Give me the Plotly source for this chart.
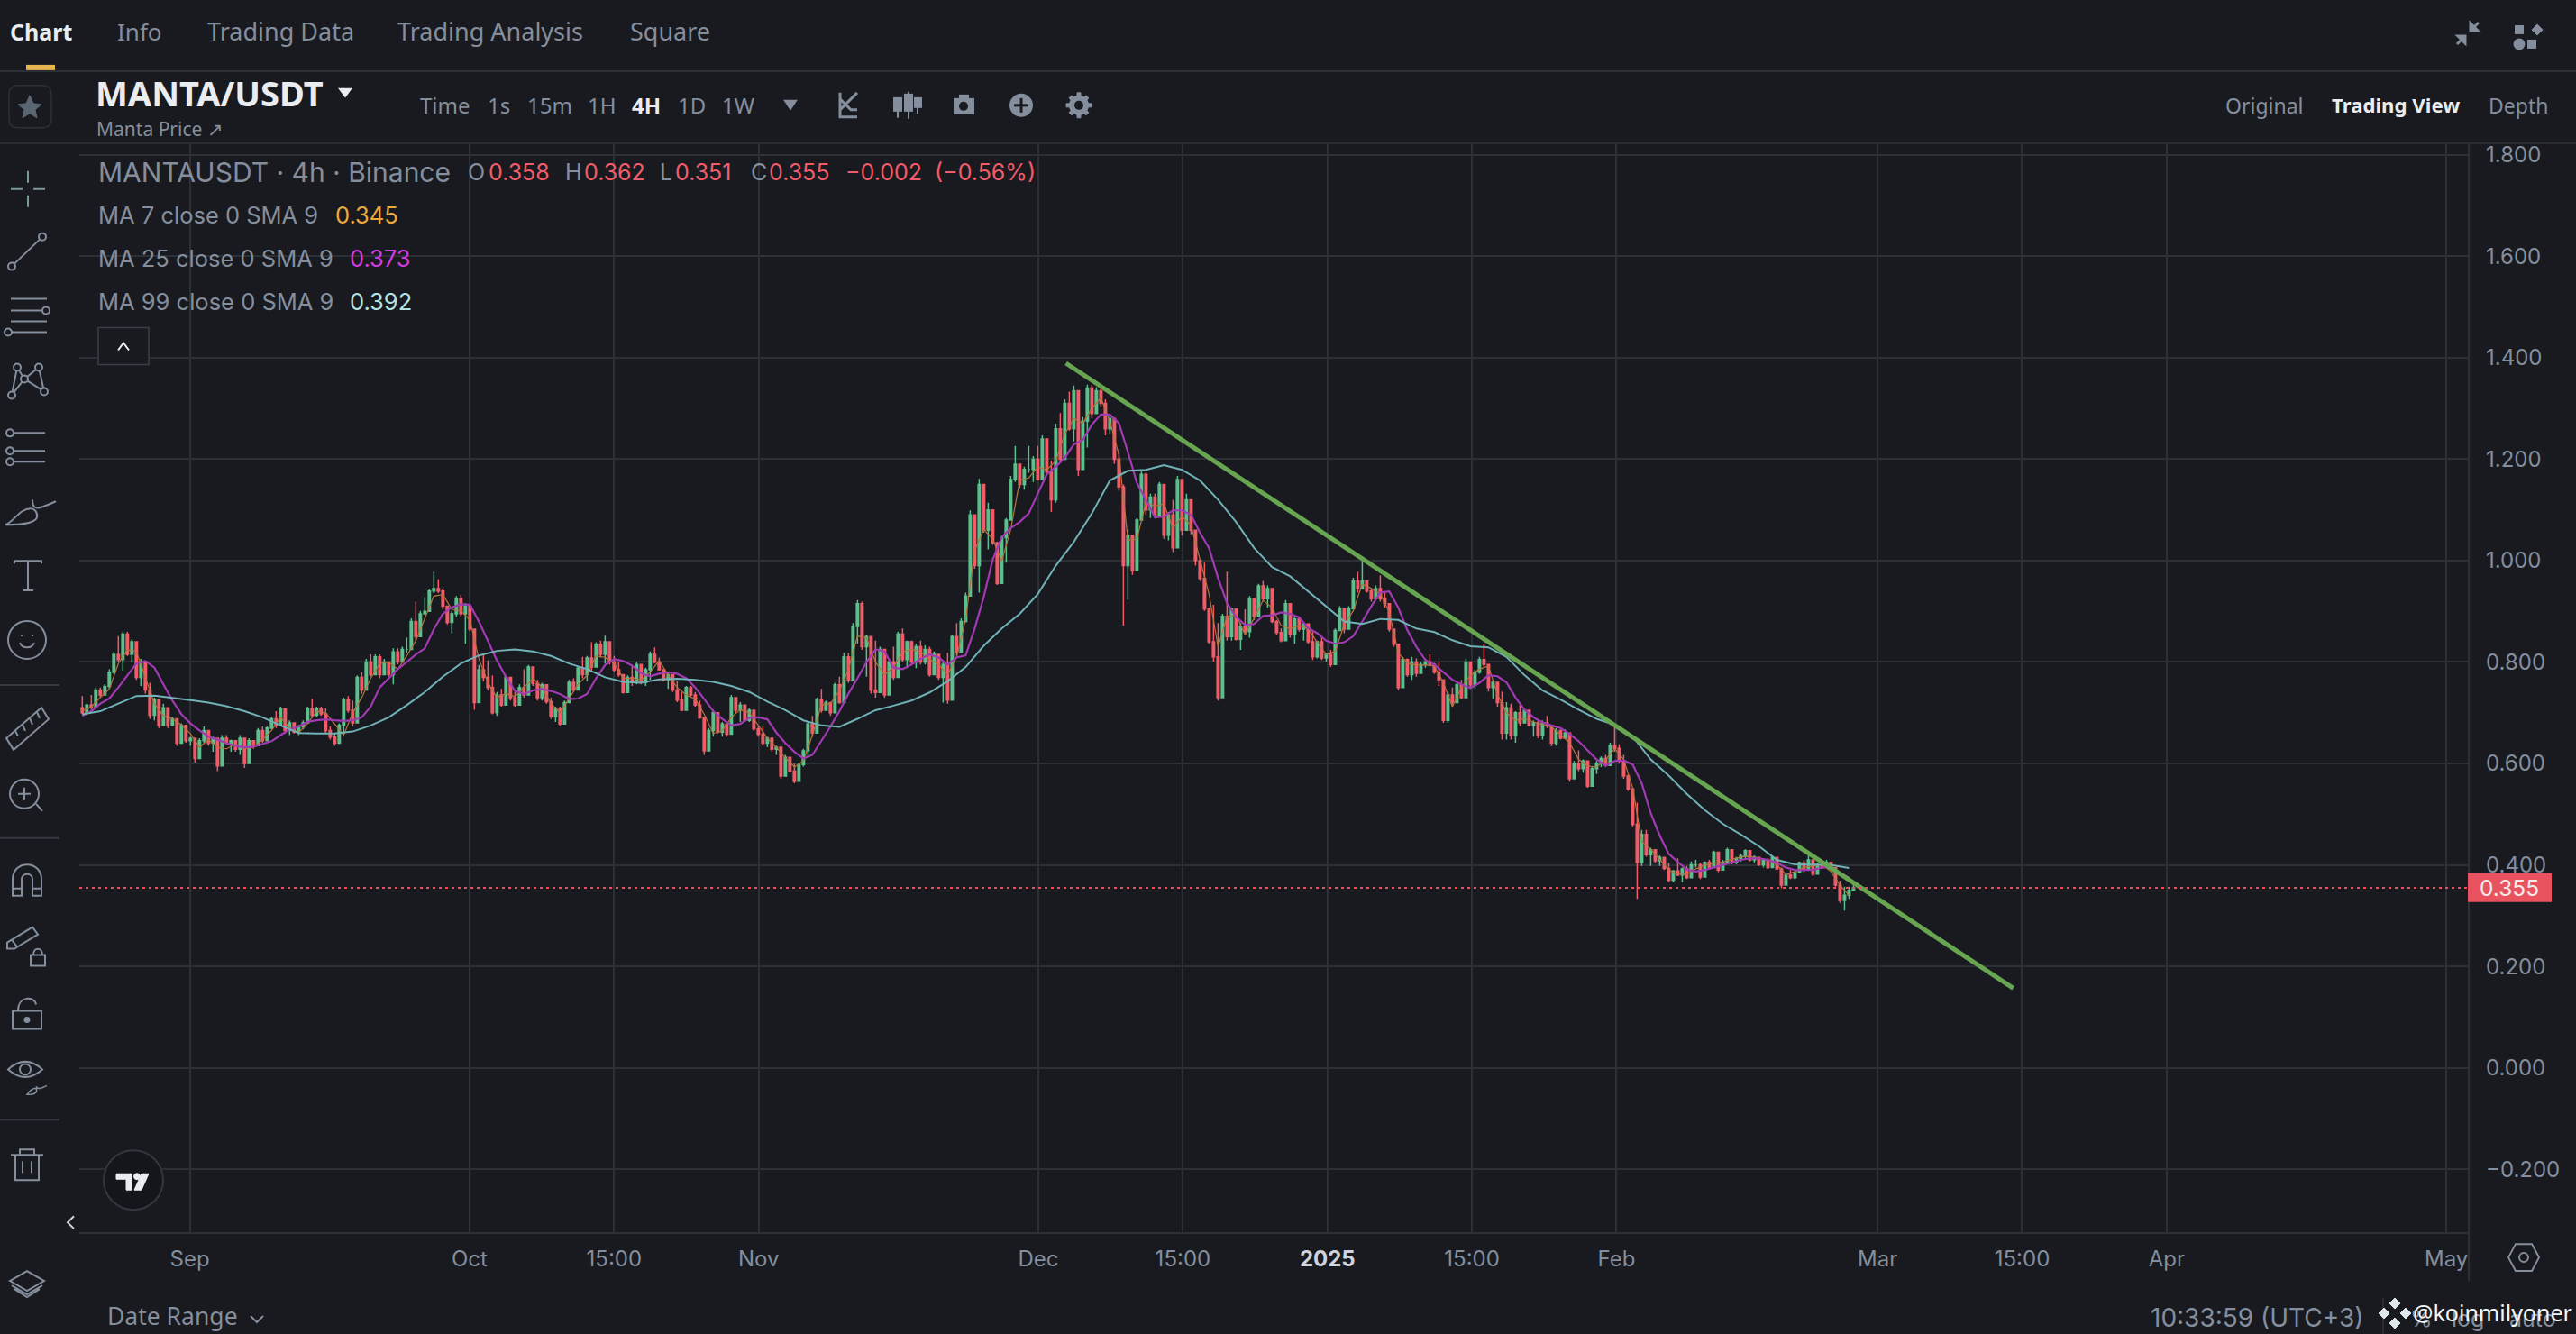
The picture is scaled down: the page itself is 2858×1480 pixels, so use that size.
import re
import pandas as pd
import plotly.graph_objects as go

W, H = 2858, 1480

start_time = "2024-08-20 11:16"

high = [
    .733,.718,.735,.75,.75,.756,.786,.821,.851,.86,
    .86,.845,.824,.806,.771,.759,.73,.712,.718,.70,
    .691,.682,.679,.664,.653,.647,.65,.673,.661,.653,
    .635,.656,.656,.647,.644,.656,.641,.65,.644,.67,
    .673,.673,.691,.703,.712,.682,.685,.676,.676,.685,
    .712,.727,.712,.712,.709,.673,.659,.679,.73,.733,
    .724,.774,.78,.806,.815,.815,.815,.806,.797,.827,
    .827,.83,.848,.886,.919,.901,.928,.945,.978,.963,
    .945,.907,.901,.93,.933,.916,.889,.851,.794,.815,
    .803,.774,.741,.747,.774,.759,.741,.756,.786,.794,
    .783,.765,.759,.741,.73,.712,.712,.724,.765,.768,
    .792,.81,.812,.839,.839,.842,.852,.833,.812,.80,
    .771,.774,.792,.80,.78,.789,.821,.829,.809,.786,
    .78,.774,.762,.741,.753,.753,.741,.724,.688,.67,
    .706,.688,.682,.679,.735,.73,.721,.712,.709,.694,
    .673,.673,.653,.647,.635,.623,.617,.611,.60,.602,
    .629,.682,.694,.73,.747,.724,.718,.759,.771,.818,
    .818,.877,.922,.919,.854,.83,
    .842,.83,.812,.803,.83,.86,.866,.842,.842,.836,
    .842,.833,.83,.821,.809,.80,.818,
    .854,.877,.886,.937,1.099,1.09,1.161,1.114,1.114,1.096,
    1.037,1.049,1.084,1.167,1.226,1.17,1.185,1.226,1.206,1.226,
    1.247,1.217,1.197,1.27,1.291,1.318,1.333,1.345,1.283,1.283,
    1.347,1.347,1.342,1.344,1.318,1.288,1.253,1.212,1.15,1.061,
    1.025,1.084,1.176,1.173,1.132,1.132,1.155,1.143,1.096,1.12,
    1.167,1.126,1.132,1.096,1.061,1.002,.996,.907,
    .913,.877,.895,.978,.907,.886,.877,.904,.93,.919,
    .954,.96,.951,.942,.883,.866,.922,.877,.889,.889,
    .877,.866,.86,.842,.848,.818,.824,.866,.91,.878,
    .91,.966,.978,.999,.96,.945,.951,.971,.937,.913,
    .866,.824,.81,.807,.81,.807,.801,.807,.815,.798,
    .801,.765,.742,.75,.759,.765,.807,.783,.786,.81,
    .836,.795,.765,.756,.742,.721,.718,
    .703,.715,.709,.70,.685,.685,.685,.694,.67,.67,
    .667,.667,.647,.605,.626,.608,.593,.593,.605,.614,
    .617,.641,.673,.638,.617,.579,.546,.523,.469,.469,
    .434,.419,.419,.413,.404,.39,.413,.395,.398,.407,
    .41,.404,.407,.41,.428,.407,.41,.434,.416,.416,
    .422,.431,.419,.419,.413,.413,.413,.419,.41,.395,
    .384,.39,.387,.407,.41,.419,.401,.404,.41,.41,
    .404,.381,.369,.357,.357,.363,
]
low = [
    .697,.697,.706,.718,.73,.738,.747,.777,.80,.783,
    .812,.80,.765,.753,.738,.688,.685,.67,.688,.67,
    .673,.635,.661,.641,.635,.602,.611,.641,.635,.623,
    .585,.611,.638,.623,.623,.617,.591,.626,.629,.635,
    .641,.653,.667,.67,.679,.659,.656,.659,.656,.667,
    .679,.691,.691,.694,.659,.647,.635,.647,.659,.70,
    .673,.724,.738,.771,.771,.783,.768,.777,.771,.756,
    .795,.80,.818,.824,.842,.86,.895,.901,.936,.936,
    .904,.874,.857,.889,.889,.836,.86,.706,.724,.762,
    .744,.697,.694,.712,.735,.724,.712,.718,.73,.753,
    .753,.724,.724,.718,.688,.682,.673,.70,.724,.741,
    .753,.768,.762,.783,.806,.809,.797,.795,.78,.771,
    .738,.756,.753,.756,.756,.753,.765,.797,.783,.762,
    .747,.741,.721,.703,.724,.732,.712,.688,.617,.635,
    .653,.659,.653,.653,.682,.70,.682,.682,.682,.665,
    .653,.635,.632,.623,.617,.57,.588,.582,.561,.588,
    .594,.611,.653,.694,.70,.706,.694,.712,.718,.747,
    .759,.789,.836,.824,.771,.738,
    .73,.741,.73,.735,.765,.783,.80,.788,.795,.788,
    .795,.795,.771,.774,.765,.72,.718,
    .807,.813,.83,.878,.949,.984,.937,1.055,1.022,1.031,
    .952,.972,.996,1.09,1.155,1.143,1.14,1.173,1.155,1.158,
    1.19,1.17,1.096,1.114,1.197,1.232,1.256,1.235,1.167,1.179,
    1.223,1.28,1.303,1.303,1.247,1.25,1.191,1.138,.872,.922,
    .972,1.02,1.084,1.09,1.084,1.084,1.096,1.043,1.04,1.017,
    1.049,1.049,1.073,1.052,.99,.96,.901,.836,
    .801,.724,.824,.842,.842,.842,.824,.854,.848,.883,
    .901,.919,.907,.877,.854,.839,.857,.848,.836,.86,
    .842,.836,.804,.807,.804,.801,.79,.812,.863,.857,
    .871,.907,.937,.954,.937,.919,.922,.919,.907,.86,
    .83,.744,.765,.771,.765,.771,.777,.789,.792,.777,
    .753,.68,.68,.712,.724,.727,.771,.747,.747,.777,
    .789,.742,.727,.712,.647,.647,.647,
    .641,.673,.682,.673,.653,.65,.647,.67,.634,.635,
    .647,.65,.564,.576,.585,.582,.552,.561,.579,.593,
    .593,.602,.623,.60,.57,.546,.475,.333,.398,.416,
    .398,.404,.398,.39,.366,.366,.378,.366,.372,.381,
    .395,.372,.392,.392,.398,.386,.395,.404,.401,.401,
    .407,.41,.407,.404,.398,.395,.392,.398,.39,.354,
    .369,.372,.372,.386,.386,.395,.378,.386,.392,.398,
    .392,.357,.325,.31,.333,.354,
]
close = [
    .70,.715,.71,.745,.735,.752,.78,.815,.805,.855,
    .815,.84,.77,.80,.745,.695,.725,.675,.71,.675,
    .688,.64,.675,.645,.65,.61,.645,.665,.64,.65,
    .595,.65,.64,.645,.628,.65,.60,.645,.635,.665,
    .645,.67,.688,.675,.708,.665,.68,.662,.672,.68,
    .708,.695,.708,.698,.665,.652,.64,.675,.725,.705,
    .68,.77,.745,.80,.775,.81,.775,.80,.775,.82,
    .80,.825,.825,.88,.85,.895,.90,.94,.945,.94,
    .91,.878,.895,.925,.895,.91,.865,.72,.785,.77,
    .75,.70,.735,.715,.77,.73,.715,.75,.735,.79,
    .758,.73,.755,.722,.692,.708,.678,.72,.76,.745,
    .788,.775,.808,.79,.835,.815,.84,.80,.785,.775,
    .74,.77,.76,.795,.76,.785,.815,.80,.785,.765,
    .775,.745,.725,.705,.75,.735,.715,.69,.625,.665,
    .70,.662,.678,.658,.73,.705,.715,.685,.705,.668,
    .658,.64,.65,.628,.632,.575,.612,.585,.565,.598,
    .625,.678,.66,.725,.705,.72,.70,.755,.72,.81,
    .765,.87,.915,.83,.85,.745,
    .74,.825,.735,.80,.77,.855,.805,.84,.80,.83,
    .80,.825,.775,.815,.77,.795,.725,
    .85,.82,.88,.93,1.09,.99,1.15,1.06,1.10,1.035,
    .955,1.045,1.08,1.16,1.19,1.15,1.18,1.18,1.20,1.16,
    1.24,1.175,1.12,1.26,1.20,1.31,1.26,1.335,1.18,1.275,
    1.34,1.29,1.335,1.31,1.26,1.28,1.20,1.145,.99,1.05,
    .98,1.08,1.17,1.10,1.125,1.09,1.15,1.05,1.09,1.025,
    1.16,1.06,1.12,1.06,1.0,.965,.905,.84,
    .81,.73,.89,.85,.905,.845,.87,.86,.925,.89,
    .95,.925,.945,.88,.858,.842,.915,.855,.885,.865,
    .875,.84,.81,.84,.808,.815,.795,.862,.905,.865,
    .905,.96,.945,.96,.94,.925,.945,.925,.915,.865,
    .835,.75,.805,.775,.80,.778,.795,.80,.795,.78,
    .765,.685,.735,.72,.755,.73,.80,.755,.78,.805,
    .795,.75,.76,.72,.66,.71,.655,
    .70,.68,.705,.675,.68,.655,.68,.675,.64,.665,
    .65,.66,.57,.60,.59,.605,.555,.59,.60,.61,
    .596,.635,.63,.605,.575,.55,.48,.405,.46,.42,
    .43,.408,.415,.393,.37,.388,.38,.392,.375,.40,
    .40,.376,.405,.395,.425,.39,.405,.43,.405,.412,
    .418,.428,.41,.415,.40,.41,.395,.415,.392,.36,
    .38,.375,.385,.404,.39,.41,.382,.40,.395,.405,
    .395,.36,.33,.34,.35,.355,
]
first_open = .71

# moving averages, read every second candle (MA 7, MA 25) and every fourth (MA 99)
ma7 = [
    .703,.712,.73,.747,.797,.824,.821,.768,.718,.694,.688,.676,.659,.632,.647,.632,.629,.638,.629,.632,
    .647,.665,.691,.67,.661,.679,.703,.70,.679,.656,.70,.73,.768,.797,.80,.786,.812,.842,.886,.93,
    .933,.904,.901,.883,.806,.759,.73,.738,.732,.75,.768,.75,.718,.70,.727,.756,.774,.812,.809,.797,
    .768,.768,.765,.78,.803,.774,.75,.735,.727,.697,.659,.665,.691,.706,.70,.676,.65,.632,.611,.593,
    .605,.656,.715,.718,.744,.786,.851,.848,.80,.775,.79,.82,.825,.82,.805,.795,.775,.81,.884,1.02,
    1.061,1.043,.999,1.061,1.158,1.163,1.185,1.179,1.197,1.25,1.28,1.271,1.30,1.321,1.274,1.209,1.04,1.043,1.114,1.108,
    1.111,1.064,1.087,1.07,1.002,.934,.83,.89,.892,.854,.886,.922,.907,.872,.866,.872,.866,.839,.815,.821,
    .874,.901,.954,.945,.934,.898,.818,.798,.794,.794,.792,.759,.712,.75,.774,.786,.792,.736,.70,.685,
    .688,.682,.676,.672,.656,.641,.608,.595,.593,.608,.629,.608,.552,.446,.431,.411,.39,.382,.382,.392,
    .40,.403,.406,.411,.416,.417,.414,.409,.401,.381,.387,.395,.398,.401,.387,.36,.34,
]
ma25 = [
    .694,.703,.718,.728,.75,.774,.797,.802,.789,.756,.724,.697,.679,.665,.653,.647,.64,.635,.632,.633,
    .638,.644,.656,.667,.673,.682,.685,.687,.685,.684,.685,.691,.712,.75,.768,.786,.80,.815,.827,.865,
    .895,.908,.914,.913,.88,.842,.803,.771,.743,.737,.744,.747,.743,.737,.727,.728,.737,.768,.794,.806,
    .802,.793,.778,.772,.777,.78,.777,.768,.75,.727,.703,.688,.675,.678,.69,.691,.687,.661,.64,.623,
    .61,.617,.644,.673,.703,.738,.768,.80,.825,.821,.789,.786,.795,.806,.815,.809,.795,.809,.813,.866,
    .928,1.002,1.046,1.064,1.076,1.093,1.132,1.17,1.185,1.203,1.229,1.238,1.268,1.288,1.288,1.271,1.214,1.153,1.12,1.085,
    1.087,1.099,1.099,1.09,1.055,1.025,.966,.916,.889,.873,.875,.891,.892,.898,.895,.888,.867,.857,.842,.836,
    .839,.851,.88,.91,.937,.939,.907,.863,.83,.804,.795,.78,.765,.756,.749,.759,.774,.772,.76,.73,
    .706,.691,.681,.675,.67,.658,.644,.626,.608,.596,.605,.606,.598,.561,.502,.458,.422,.406,.391,.387,
    .39,.395,.40,.405,.41,.413,.413,.41,.404,.395,.39,.39,.39,.395,.395,.384,.375,
]
ma99 = [
    .697,.703,.718,.733,.734,.73,.725,.72,.713,.703,.691,.675,.66,.659,.659,.663,.675,.691,.715,.741,
    .771,.797,.813,.822,.825,.821,.812,.797,.786,.77,.761,.759,.766,.767,.765,.761,.753,.741,.722,.705,
    .685,.675,.672,.688,.705,.714,.724,.74,.762,.79,.832,.866,.895,.934,.99,1.037,1.093,1.158,1.177,1.179,
    1.188,1.179,1.158,1.12,1.076,1.025,.987,.969,.939,.91,.88,.875,.885,.883,.866,.859,.843,.831,.829,.81,
    .774,.744,.726,.706,.688,.676,.653,.608,.576,.54,.508,.481,.46,.437,.41,.401,.40,.40,.394,
]

trend_times = ["2024-12-03 23:00", "2025-03-15 13:12"]
trend_values = [1.389, .157]
last_price = .355

tick_dates = ["2024-09-01", "2024-10-01", "2024-10-16 12:00", "2024-11-01", "2024-12-01", "2024-12-16 12:00",
              "2025-01-01", "2025-01-16 12:00", "2025-02-01", "2025-03-01", "2025-03-16 12:00", "2025-04-01", "2025-05-01"]
tick_labels = ["Sep", "Oct", "15:00", "Nov", "Dec", "15:00",
               "<b><span style='color:#d0d4da'>2025</span></b>", "15:00", "Feb", "Mar", "15:00", "Apr", "May"]
price_ticks = [1.8, 1.6, 1.4, 1.2, 1.0, .8, .6, .4, .2, 0, -.2]
price_labels = ["1.800", "1.600", "1.400", "1.200", "1.000", "0.800", "0.600", "0.400", "0.200", "0.000", "−0.200"]

BG = "#181a20"
GRID = "#2b2f36"
GRAY = "#848e9c"
GREEN = "#5cc08c"
RED = "#f25c69"
FONT = "Noto Sans"
CHART_FONT = "Inter"

candle_times = pd.date_range(start_time, periods=len(close), freq="696min")
opens = [first_open] + close[:-1]

fig = go.Figure()
fig.add_trace(go.Candlestick(
    x=candle_times, open=opens, high=high, low=low, close=close, whiskerwidth=0,
    increasing=dict(line=dict(color=GREEN, width=1.5), fillcolor=GREEN),
    decreasing=dict(line=dict(color=RED, width=1.5), fillcolor=RED),
    hoverinfo="skip", showlegend=False))
fig.add_trace(go.Scatter(x=pd.date_range(start_time, periods=len(ma7), freq="1392min"), y=ma7, mode="lines",
                         line=dict(color="#b3763c", width=1.2), hoverinfo="skip", showlegend=False))
fig.add_trace(go.Scatter(x=pd.date_range(start_time, periods=len(ma25), freq="1392min"), y=ma25, mode="lines",
                         line=dict(color="#a23ab3", width=2.2), hoverinfo="skip", showlegend=False))
fig.add_trace(go.Scatter(x=pd.date_range(start_time, periods=len(ma99), freq="2784min"), y=ma99, mode="lines",
                         line=dict(color="#70b2b6", width=2), hoverinfo="skip", showlegend=False))
fig.add_trace(go.Scatter(x=trend_times, y=trend_values, mode="lines",
                         line=dict(color="#68a550", width=5), hoverinfo="skip", showlegend=False))

shapes = []
notes = []


def fx(px):
    return px / W


def fy(py):
    return 1 - py / H


def text(x, y, s, size=24, color=GRAY, anchor="left", font=FONT):
    notes.append(dict(x=fx(x), y=fy(y), xref="paper", yref="paper", text=s, showarrow=False,
                      xanchor=anchor, yanchor="middle", borderpad=0,
                      font=dict(family=font, size=size, color=color)))


def line(x0, y0, x1, y1, color=GRID, width=2):
    shapes.append(dict(type="line", xref="paper", yref="paper", x0=fx(x0), y0=fy(y0), x1=fx(x1), y1=fy(y1),
                       line=dict(color=color, width=width)))


def rect(x0, y0, x1, y1, fill=None, color=None, width=2):
    shapes.append(dict(type="rect", xref="paper", yref="paper", x0=fx(x0), y0=fy(y0), x1=fx(x1), y1=fy(y1),
                       fillcolor=fill or "rgba(0,0,0,0)", line=dict(color=color or "rgba(0,0,0,0)", width=width)))


def ring(cx, cy, r, color=GRAY, fill=None, width=2):
    shapes.append(dict(type="circle", xref="paper", yref="paper", x0=fx(cx - r), y0=fy(cy - r), x1=fx(cx + r),
                       y1=fy(cy + r), fillcolor=fill or "rgba(0,0,0,0)", line=dict(color=color, width=width)))


def icon(cx, cy, path, color=GRAY, fill=None, width=2):
    # path is written in pixels around the icon centre
    nums = iter(re.findall(r"[A-Z]|-?\d+\.?\d*", path))
    out = []
    for tok in nums:
        if tok.isalpha():
            out.append(tok)
        else:
            out.append(f"{fx(cx + float(tok)):.5f},{fy(cy + float(next(nums))):.5f}")
    shapes.append(dict(type="path", xref="paper", yref="paper", path=" ".join(out),
                       fillcolor=fill or "rgba(0,0,0,0)", line=dict(color=color, width=width)))


# top tabs and header
line(0, 77, W, 77)
line(0, 157, W, 157)
rect(29, 70, 61, 76, fill="#e8b450")
text(10, 33, "<b>Chart</b>", 25, "#eaecef")
text(129, 33, "Info", 26)
text(229, 33, "Trading Data", 27)
text(440, 33, "Trading Analysis", 27)
text(698, 33, "Square", 27)
icon(2738, 35, "M3 -3 L12 -12 M3 -11 L3 -3 L11 -3 Z M-3 3 L-12 12 M-3 11 L-3 3 L-11 3 Z", GRAY, GRAY, 3)
rect(2790, 26, 2800, 36, fill=GRAY)
icon(2802, 37, "M13 -12 L19 -6 L13 0 L7 -6 Z", GRAY, GRAY, 1)
ring(2795, 47, 5.5, GRAY, GRAY)
rect(2804, 42, 2814, 52, fill=GRAY)

# symbol row
text(105, 101, "<b>MANTA/USDT</b>", 38, "#eaecef")
icon(383, 100, "M-6 -3 L6 -3 L0 5 Z", "#eaecef", "#eaecef")
text(106, 141, "Manta Price ↗", 21)
shapes.append(dict(type="path", xref="paper", yref="paper",
                   path=f"M {fx(20)},{fy(93)} L {fx(47)},{fy(93)} Q {fx(57)},{fy(93)} {fx(57)},{fy(103)} L {fx(57)},{fy(130)} "
                        f"Q {fx(57)},{fy(140)} {fx(47)},{fy(140)} L {fx(20)},{fy(140)} Q {fx(10)},{fy(140)} {fx(10)},{fy(130)} "
                        f"L {fx(10)},{fy(103)} Q {fx(10)},{fy(93)} {fx(20)},{fy(93)} Z",
                   line=dict(color=GRID, width=1.5)))
icon(33, 117, "M0 -13 L4 -4 L13 -3 L6 3 L8 12 L0 7 L-8 12 L-6 3 L-13 -3 L-4 -4 Z", "#5a6672", "#5a6672", 1)
for label, x, col in [("Time", 465, GRAY), ("1s", 540, GRAY), ("15m", 584, GRAY), ("1H", 651, GRAY),
                      ("<b>4H</b>", 700, "#eaecef"), ("1D", 751, GRAY), ("1W", 800, GRAY)]:
    text(x, 115, label, 24, col)
icon(877, 114, "M-6 -4 L6 -4 L0 5 Z", GRAY, GRAY)
icon(941, 115, "M-9 -14 L-9 13 L10 13 M-9 5 L10 -14 M-9 -7 L3 5 L10 5", GRAY, None, 3)
icon(1005, 115, "M-9 -7 L-9 14 M3 -15 L3 15 M13 -5 L13 10", GRAY, None, 2)
rect(991, 106, 1001, 122, fill=GRAY)
rect(1003, 102, 1013, 122, fill=GRAY)
rect(1014, 106, 1023, 118, fill=GRAY)
rect(1058, 107, 1081, 125, fill=GRAY)
rect(1064, 103, 1075, 108, fill=GRAY)
ring(1069, 116, 4, BG, BG)
ring(1133, 115, 12, GRAY, GRAY)
line(1133, 107, 1133, 123, BG, 3)
line(1125, 115, 1141, 115, BG, 3)
ring(1197, 115, 8, GRAY, None, 6)
icon(1197, 115, "M-2 -14 L2 -14 L2 14 L-2 14 Z M-14 -2 L14 -2 L14 2 L-14 2 Z M-11 -8 L-8 -11 L11 8 L8 11 Z M8 -11 L11 -8 L-8 11 L-11 8 Z", GRAY, GRAY, 1)
ring(1197, 115, 4, BG, BG)
text(2468, 115, "Original", 23)
text(2586, 115, "<b>Trading View</b>", 22.2, "#eaecef")
text(2760, 115, "Depth", 23)

# chart legend
text(108, 189, "MANTAUSDT · 4h · Binance", 30, GRAY, font=CHART_FONT)
for x, s, col in [(518, "O", GRAY), (541, "0.358", RED), (626, "H", GRAY), (647, "0.362", RED), (731, "L", GRAY),
                  (748, "0.351", RED), (832, "C", GRAY), (852, "0.355", RED), (937, "−0.002", RED), (1036, "(−0.56%)", RED)]:
    text(x, 189, s, 25, col, font=CHART_FONT)
text(108, 237, "MA 7 close 0 SMA 9", 25.5, GRAY, font=CHART_FONT)
text(371, 237, "0.345", 25.5, "#eca93c", font=CHART_FONT)
text(108, 285, "MA 25 close 0 SMA 9", 25.5, GRAY, font=CHART_FONT)
text(387, 285, "0.373", 25.5, "#d13be0", font=CHART_FONT)
text(108, 333, "MA 99 close 0 SMA 9", 25.5, GRAY, font=CHART_FONT)
text(387, 333, "0.392", 25.5, "#b5e3e3", font=CHART_FONT)
rect(109, 362, 165, 403, fill=BG, color="#3a3f47", width=1.5)
icon(137, 383, "M-6 4 L0 -4 L6 4", "#eaecef")

# left tools
icon(31, 208, "M-19 0 L-6 0 M6 0 L19 0 M0 -20 L0 -7 M0 7 L0 20", "#7a9a9c", None, 2)
ring(13, 294, 4)
ring(47, 261, 4)
line(16, 291, 44, 264, GRAY)
for y in [330, 343, 355, 367]:
    line(12, y, 52, y, GRAY)
ring(51, 343, 4, GRAY, BG)
ring(9, 367, 4, GRAY, BG)
icon(30, 421, "M-11 -15 L-17 16 L-3 -2 L19 12 L13 -15 L-3 -2 L-11 -15 M-17 16 L-3 -2", GRAY)
for x, y in [(19, 406), (43, 406), (27, 419), (13, 437), (49, 433)]:
    ring(x, y, 4, GRAY, BG)
for y in [479, 499, 511]:
    line(14, y, 50, y, GRAY)
    ring(11, y, 4, GRAY, BG)
icon(30, 567, "M-24 14 C-14 10 -8 -4 4 -4 C8 -4 12 0 11 6 C8 14 -14 14 -24 14 Z M6 -14 C6 -2 10 -2 32 -12", GRAY)
icon(31, 636, "M-15 -12 L-15 -15 L15 -15 L15 -12 M0 -15 L0 18 M-6 18 L6 18", GRAY)
ring(30, 709, 21)
icon(30, 709, "M-8 3 C-5 10 5 10 8 3 M-7 -5 L-5 -5 M5 -5 L7 -5", GRAY)
line(0, 759, 66, 759, "#343840")
icon(30, 807, "M-23 11 L16 -23 L24 -10 L-15 24 Z M-13 3 L-10 9 M-5 -4 L-2 3 M3 -11 L6 -4 M11 -18 L14 -11", GRAY)
ring(27, 880, 16)
icon(27, 880, "M-7 0 L7 0 M0 -7 L0 7 M13 11 L20 19", GRAY)
line(0, 929, 66, 929, "#343840")
icon(30, 976, "M-16 17 L-16 -1 C-16 -23 16 -23 16 -1 L16 17 L6 17 L6 -1 C6 -9 -6 -9 -6 -1 L-6 17 Z M-16 9 L-6 9 M6 9 L16 9", GRAY)
icon(26, 1042, "M-18 3 L10 -14 L16 -6 L-10 10 L-18 10 Z M-13 0 L-7 8", GRAY)
icon(28, 1047, "M6 12 L22 12 L22 24 L6 24 Z M9 12 C9 3 19 3 19 12", GRAY)
icon(30, 1122, "M-16 -1 L16 -1 L16 19 L-16 19 Z M-10 -1 C-10 -18 8 -18 10 -8", GRAY)
ring(30, 1131, 2.5, GRAY, GRAY)
icon(28, 1189, "M-19 -3 Q0 -20 19 -3 Q0 14 -19 -3 Z", GRAY)
ring(28, 1186, 6)
icon(38, 1209, "M-8 5 C-6 2 -2 -2 2 -2 C4 2 2 5 -8 5 Z M2 -4 C4 0 8 -2 14 -5", GRAY, None, 1.5)
line(0, 1242, 66, 1242, "#343840")
icon(30, 1293, "M-18 -12 L18 -12 M-13 -12 L-13 16 L13 16 L13 -12 M-8 -12 L-8 -18 L8 -18 L8 -12 M-5 -5 L-5 8 M5 -5 L5 8", GRAY)
icon(78, 1356, "M4 -7 L-3 0 L4 7", "#cfd3d8")
icon(30, 1421, "M-19 0 L0 -11 L19 0 L0 11 Z M-17 5 L0 15 L17 5 M-14 9 L0 18 L14 9", GRAY)

# logo badge
ring(148, 1309, 33, "#33373f", "#14161b", 2)
icon(148, 1309, "M-19 -7 L-2 -7 L-2 11 L-8 11 L-8 -1 L-19 -1 Z", "#eaecef", "#eaecef", 1)
ring(4 + 148, 1309 - 4, 3.5, "#eaecef", "#eaecef", 1)
icon(148, 1309, "M9 -7 L17 -7 L9 11 L1 11 Z", "#eaecef", "#eaecef", 1)

# price axis side
line(2739, 157, 2739, 1421)
rect(2738, 968, 2831, 1000, fill="#e8535f")
text(2784, 984, "0.355", 24.5, "#f5e9ea", "center", CHART_FONT)
icon(2800, 1395, "M-17 0 L-9 -15 L9 -15 L17 0 L9 15 L-9 15 Z", GRAY)
ring(2800, 1395, 5)

# bottom strip
text(118, 1460, "Date Range", 26.5)
icon(285, 1463, "M-7 -3 L0 4 L7 -3", GRAY)
text(2385, 1462, "10:33:59 (UTC+3)", 28, GRAY, font=CHART_FONT)
line(2644, 1440, 2644, 1480, "#4a3c42", 1)
text(2673, 1463, "%", 25, GRAY, font=CHART_FONT)
text(2719, 1463, "log", 25, GRAY, font=CHART_FONT)
text(2783, 1463, "auto", 25, GRAY, font=CHART_FONT)
icon(2657, 1457, "M0 -17 L6 -11 L0 -5 L-6 -11 Z M0 5 L6 11 L0 17 L-6 11 Z M-12 -6 L-6 0 L-12 6 L-18 0 Z M12 -6 L18 0 L12 6 L6 0 Z", "#dfe7ea", "#dfe7ea", 1)
text(2676, 1456, "@koinmilyoner", 25, "#f4f6f8")

# dotted last price line
shapes.append(dict(type="line", xref="x domain", yref="y", x0=0, x1=1, y0=last_price, y1=last_price,
                   line=dict(color="#e0525f", width=2, dash="3px,4px")))

fig.update_layout(
    width=W, height=H, autosize=False,
    margin=dict(l=0, r=0, t=0, b=0),
    paper_bgcolor=BG, plot_bgcolor=BG,
    showlegend=False,
    shapes=shapes, annotations=notes,
    xaxis=dict(domain=[88 / W, 2739 / W], type="date", range=["2024-08-20 03:36", "2025-05-03 09:30"],
               tickvals=tick_dates, ticktext=tick_labels, showgrid=True, gridcolor=GRID, gridwidth=2,
               zeroline=False, showline=True, linecolor=GRID, linewidth=2, ticks="",
               tickfont=dict(family=CHART_FONT, size=24, color=GRAY), ticklabelstandoff=7,
               rangeslider=dict(visible=False), anchor="y"),
    yaxis=dict(domain=[1 - 1367 / H, 1 - 157 / H], range=[-.3242, 1.823], side="right",
               tickvals=price_ticks, ticktext=price_labels, showgrid=True, gridcolor=GRID, gridwidth=2,
               zeroline=False, showline=False, ticks="",
               tickfont=dict(family=CHART_FONT, size=24, color=GRAY), ticklabelstandoff=18, anchor="x"),
)

fig.write_html("out.html", config={"displayModeBar": False},
               post_script=f"document.body.style.margin='0';document.body.style.background='{BG}';")
